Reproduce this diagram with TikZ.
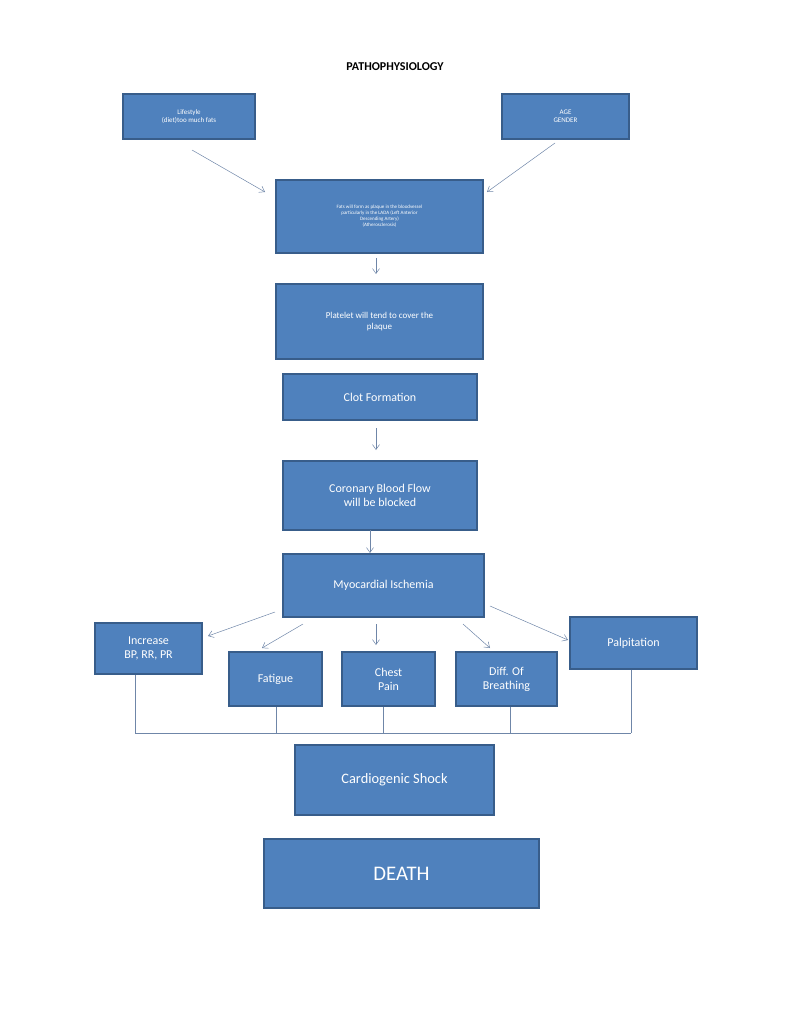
\documentclass[tikz,border=0pt]{standalone}
\usepackage{fontspec}
\setmainfont{Carlito}
\usetikzlibrary{arrows.meta}
\definecolor{boxblue}{HTML}{4F81BD}
\definecolor{boxline}{HTML}{385D8A}
\definecolor{arrowgray}{HTML}{6F86A8}
\begin{document}
\begin{tikzpicture}[
        x=1pt, y=-1pt,
        box/.style={draw=boxline, fill=boxblue, line width=1.2pt, text=white, align=center, inner sep=0pt},
        arr/.style={draw=arrowgray, -{Straight Barb[length=5pt,width=7pt]}, line width=0.5pt},
        link/.style={draw=arrowgray, line width=0.5pt},
    ]
    \useasboundingbox (0,0) rectangle (791,1023);
    \node[font=\bfseries\large] (title) at (395,67) {PATHOPHYSIOLOGY};
    % top row
    \node[box, minimum width=132pt, minimum height=45pt, font=\scriptsize] (life) at (189,116.5) {Lifestyle\\(diet)too much fats};
    \node[box, minimum width=127pt, minimum height=45pt, font=\scriptsize] (age) at (565.5,116.5) {AGE\\GENDER};
    \node[box, minimum width=207pt, minimum height=73pt, font=\tiny] (fats) at (379.5,216.5) {Fats will form as plaque in the bloodvessel\\particularly in the LADA (Left Anterior\\Descending Artery)\\(Atherosclerosis)};
    \node[box, minimum width=207pt, minimum height=75pt, font=\small] (plat) at (379.5,321.5) {Platelet will tend to cover the\\plaque};
    \node[box, minimum width=194pt, minimum height=46pt, font=\large] (clot) at (380,397) {Clot Formation};
    \node[box, minimum width=194pt, minimum height=69pt, font=\large] (cbf) at (380,495.5) {Coronary Blood Flow\\will be blocked};
    \node[box, minimum width=201pt, minimum height=63pt, font=\large] (myo) at (383.5,585.5) {Myocardial Ischemia};
    % symptoms
    \node[box, minimum width=107pt, minimum height=51pt, font=\large] (bp) at (148.5,648.5) {Increase\\BP, RR, PR};
    \node[box, minimum width=93pt, minimum height=54pt, font=\large] (fat) at (275.5,679) {Fatigue};
    \node[box, minimum width=93pt, minimum height=54pt, font=\large] (chest) at (388.5,679) {Chest\\Pain};
    \node[box, minimum width=101pt, minimum height=54pt, font=\large] (diff) at (506.5,679) {Diff. Of\\Breathing};
    \node[box, minimum width=127pt, minimum height=52pt, font=\large] (palp) at (633.5,643) {Palpitation};
    \node[box, minimum width=199pt, minimum height=70pt, font=\Large] (shock) at (394.5,780) {Cardiogenic Shock};
    \node[box, minimum width=275pt, minimum height=69pt, font=\huge] (death) at (401.5,873.5) {DEATH};
    % connectors
    \coordinate (l1) at (192,150); \coordinate (l2) at (265,192);
    \coordinate (a1) at (555,143); \coordinate (a2) at (487,192);
    \draw[arr] (l1) -- (l2);
    \draw[arr] (a1) -- (a2);
    \draw[arr] (376,258) coordinate (f1) -- (376,274) coordinate (f2);
    \draw[arr] (376,428) coordinate (c1) -- (376,450) coordinate (c2);
    \draw[arr] (370,530) coordinate (b1) -- (370,553) coordinate (b2);
    \draw[arr] (275,612) coordinate (m1) -- (208,636) coordinate (m1e);
    \draw[arr] (303,624) coordinate (m2) -- (262,648) coordinate (m2e);
    \draw[arr] (376,624) coordinate (m3) -- (376,645) coordinate (m3e);
    \draw[arr] (463,624) coordinate (m4) -- (490,648) coordinate (m4e);
    \draw[arr] (490,606) coordinate (m5) -- (568,640) coordinate (m5e);
    % joining lines
    \coordinate (join) at (0,733);
    \foreach \n/\x in {bp/135, fat/276, chest/383, diff/510, palp/631}
        \draw[link] (\x,0 |- \n.south) -- (\x,733);
    \draw[link] (135,733) -- (631,733);
\end{tikzpicture}
\end{document}
